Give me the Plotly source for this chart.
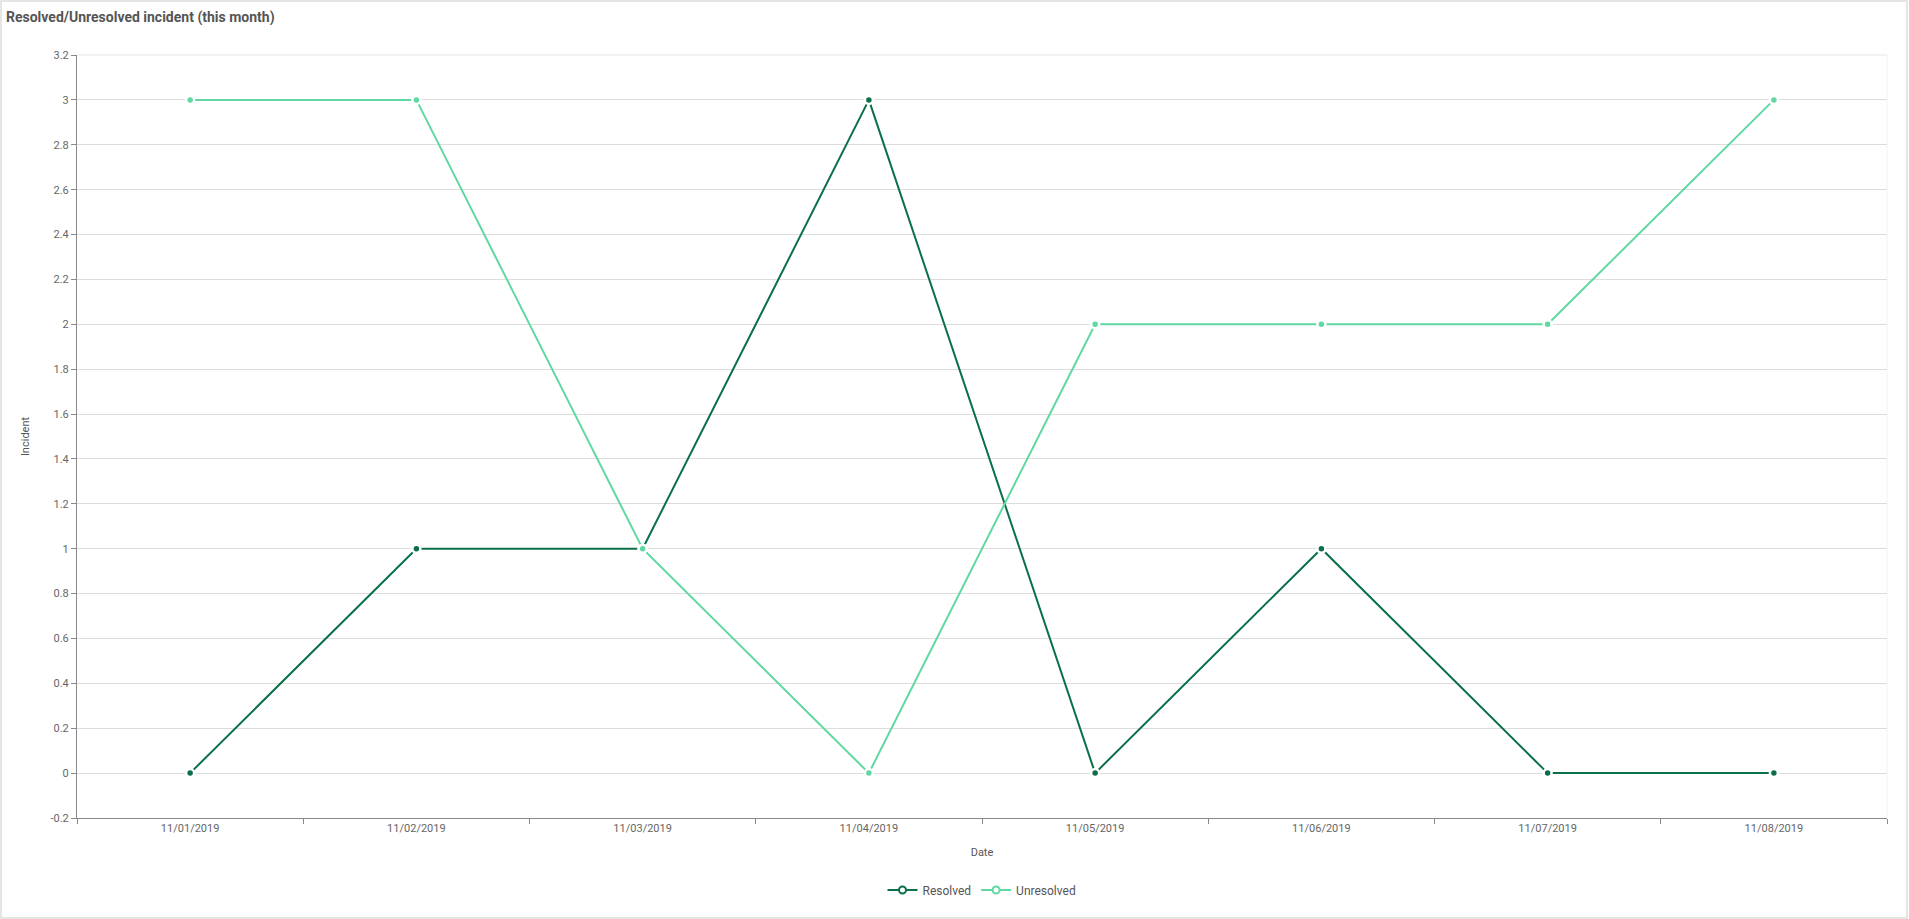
import plotly.graph_objects as go

dates = ["11/01/2019", "11/02/2019", "11/03/2019", "11/04/2019",
         "11/05/2019", "11/06/2019", "11/07/2019", "11/08/2019"]
resolved = [0, 1, 1, 3, 0, 1, 0, 0]
unresolved = [3, 3, 1, 0, 2, 2, 2, 3]

series_names = ["Resolved", "Unresolved"]
series_colors = ["#0a7047", "#5fd8a2"]
y_ticks = [round(-0.2 + 0.2 * i, 1) for i in range(18)]
y_tick_text = [("%g" % v) for v in y_ticks]

W, H = 1909, 919
ML, MR, MT, MB = 77, 22, 55, 101
PW, PH = W - ML - MR, H - MT - MB

fig = go.Figure()
for name, vals, col in zip(series_names, [resolved, unresolved], series_colors):
    fig.add_trace(go.Scatter(
        x=dates, y=vals, name=name, mode="lines+markers",
        line=dict(color=col, width=2),
        marker=dict(color=col, size=8, line=dict(color="white", width=2.5)),
        showlegend=False,
    ))
    fig.add_trace(go.Scatter(
        x=[None], y=[None], name=name, mode="lines+markers",
        line=dict(color=col, width=2),
        marker=dict(color="white", size=7, symbol="circle",
                    line=dict(color=col, width=2)),
        showlegend=True,
    ))

fig.update_layout(
    width=W, height=H,
    margin=dict(l=ML, r=MR, t=MT, b=MB, autoexpand=False),
    paper_bgcolor="white", plot_bgcolor="white",
    font=dict(family="Roboto", size=11, color="#666666"),
    title=dict(text="<b>Resolved/Unresolved incident (this month)</b>",
               font=dict(family="Roboto", size=14, color="#555555"),
               xref="container", yref="container",
               x=6 / W, xanchor="left", y=1 - 17 / H, yanchor="middle"),
    legend=dict(orientation="h", x=0.5, xanchor="center",
                y=-(890 - (H - MB)) / PH, yanchor="middle",
                font=dict(size=12, color="#555555"), itemwidth=30,
                traceorder="normal"),
    xaxis=dict(type="category", tickson="boundaries", automargin=False,
               range=[-0.5, len(dates) - 0.5],
               showgrid=False, showline=True, linecolor="#888888", linewidth=1,
               ticks="outside", ticklen=5, tickcolor="#888888",
               tickfont=dict(size=11, color="#666666"),
               title=dict(text="Date", font=dict(size=11, color="#555555"), standoff=14),
               zeroline=False),
    yaxis=dict(range=[-0.2, 3.2], tickvals=y_ticks, ticktext=y_tick_text, automargin=False,
               showgrid=True, gridcolor="#dddddd", gridwidth=1,
               showline=True, linecolor="#888888", linewidth=1,
               ticks="outside", ticklen=5, tickcolor="#888888",
               tickfont=dict(size=11, color="#666666"),
               title=dict(text="Incident", font=dict(size=11, color="#555555"), standoff=18),
               zeroline=False),
    shapes=[
        dict(type="line", xref="paper", yref="paper", x0=0, x1=1, y0=1, y1=1,
             line=dict(color="#f2f2f2", width=2), layer="above"),
        dict(type="line", xref="paper", yref="paper", x0=1, x1=1, y0=0, y1=1,
             line=dict(color="#f2f2f2", width=1), layer="below"),
        dict(type="rect", xref="paper", yref="paper",
             x0=-(ML - 1) / PW, x1=(W - 2 - ML) / PW,
             y0=-(H - 1 - (H - MB)) / PH, y1=1 + (MT - 1) / PH,
             line=dict(color="#dddddd", width=1.5), layer="below"),
    ],
)

fig.write_html("out.html", config={"displayModeBar": False},
               post_script="document.body.style.margin='0px';document.body.style.overflow='hidden';")
